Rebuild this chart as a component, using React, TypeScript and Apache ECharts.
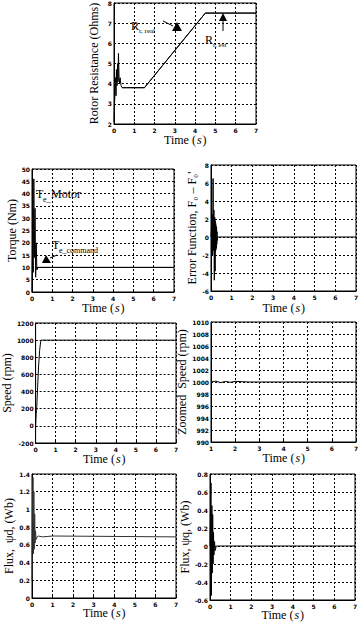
import React, { useEffect, useRef } from "react";
import * as echarts from "echarts";

// ---- Data ----
const rrEstTime = [0, 0.02, 0.05, 0.08, 0.1, 0.12, 0.15, 0.18, 0.2, 0.22, 0.25, 0.28, 0.3, 0.35, 0.4, 1.5, 4.5, 7];
const rrEstVal = [2.1, 2.9, 3.6, 4.3, 3.4, 4.7, 3.9, 5.0, 4.1, 5.5, 4.3, 4.0, 4.3, 3.9, 3.8, 3.8, 7.5, 7.5];
const rrRealTime = [0.4, 1.5, 4.5, 7];
const rrRealVal = [3.8, 3.8, 7.5, 7.5];

const teTime = [0, 0.03, 0.06, 0.09, 0.12, 0.15, 0.18, 0.21, 0.24, 0.3, 7];
const teMotor = [0, 22, 8, 46, 14, 34, 6, 20, 9, 10, 10];
const teCmdTime = [0.3, 7];
const teCmd = [10, 10];

const errTime = [0, 0.06, 0.08, 0.1, 0.12, 0.14, 0.16, 0.18, 0.2, 0.21, 0.22, 0.23, 0.24, 0.25, 0.26, 0.27, 0.28, 0.29, 0.3, 0.32, 7];
const errVal = [0, 2.5, -2, 6.5, -1.5, 3, -4.8, 2.2, -3.8, 1.8, -1.6, 1.5, -1.4, 1.2, -1.2, 1, -0.8, 0.6, -0.4, 0, 0];

const spdTime = [0, 0.03, 0.05, 0.06, 0.1, 0.15, 0.2, 0.25, 0.28, 0.3, 7];
const spdVal = [0, 150, 180, 230, 450, 700, 880, 980, 1000, 1000, 1000];

const zspdTime = [1, 1.2, 1.4, 1.6, 1.8, 2.0, 2.3, 2.6, 3.0, 4.0, 5.0, 6.0, 7];
const zspdVal = [1000, 1000.15, 999.9, 1000.1, 999.95, 1000.1, 1000.05, 1000, 1000, 1000, 1000, 1000, 1000];

const psidTime = [0, 0.02, 0.05, 0.07, 0.09, 0.11, 0.13, 0.15, 0.17, 0.2, 0.25, 0.3, 0.5, 1, 7];
const psidVal = [0.2, 1.0, 1.36, 0.5, 1.2, 0.55, 0.95, 0.62, 0.76, 0.66, 0.69, 0.7, 0.69, 0.7, 0.69];

const psiqTime = [0, 0.03, 0.05, 0.07, 0.09, 0.11, 0.13, 0.15, 0.17, 0.19, 0.22, 0.25, 0.3, 7];
const psiqVal = [0, 0.5, 0.7, -0.55, 0.45, -0.3, 0.35, -0.2, 0.15, -0.1, 0.05, -0.05, 0, 0];

// axis ranges / tick steps
const axes = [
  { x: [0, 7, 1], y: [2, 8, 1], yName: "Rotor Resistance (Ohms)" },
  { x: [0, 7, 1], y: [0, 50, 5], yName: "Torque (Nm)" },
  { x: [0, 7, 1], y: [-6, 8, 2], yName: "Error Function, F₀ – F₀'" },
  { x: [0, 7, 1], y: [-200, 1200, 200], yName: "Speed (rpm)" },
  { x: [1, 7, 1], y: [990, 1010, 2], yName: "Zoomed  Speed (rpm)" },
  { x: [0, 7, 1], y: [0, 1.4, 0.2], yName: "Flux,  ψd, (Wb)" },
  { x: [0, 7, 1], y: [-0.6, 0.8, 0.2], yName: "Flux, ψq, (Wb)" },
];

const grids = [
  { left: 114, top: 3, width: 142, height: 121, yGap: 14, xGap: 10 },
  { left: 32, top: 169, width: 142, height: 123, yGap: 12, xGap: 10 },
  { left: 211, top: 165, width: 145, height: 126, yGap: 12, xGap: 11 },
  { left: 32, top: 323, width: 144, height: 120, yGap: 14, xGap: 10 },
  { left: 211, top: 322, width: 145, height: 120, yGap: 14, xGap: 10 },
  { left: 32, top: 474, width: 144, height: 124, yGap: 14, xGap: 9 },
  { left: 210, top: 474, width: 145, height: 126, yGap: 10, xGap: 9 },
];

const zip = (t: number[], v: number[]) => t.map((x, i) => [x, v[i]]);

const SERIF = "Liberation Serif, Times New Roman, serif";

export default function App() {
  const ref = useRef<HTMLDivElement>(null);
  useEffect(() => {
    if (!ref.current) return;
    const chart = echarts.init(ref.current, undefined, { renderer: "svg" });
    const fmt = (v: number) => String(Math.round(v * 1000) / 1000);
    const tickLabel = { fontSize: 6, color: "#000", fontFamily: "DejaVu Sans", fontWeight: "bold" as const, formatter: fmt };
    const split = { show: true, lineStyle: { color: "#000", type: [2, 2] as any, width: 1 } };
    const xAxis = axes.map((a, i) => ({
      type: "value" as const,
      gridIndex: i,
      min: a.x[0],
      max: a.x[1],
      interval: a.x[2],
      axisLine: { show: true, onZero: false, lineStyle: { color: "#000" } },
      axisTick: { show: true, inside: true, length: 2, lineStyle: { color: "#000" } },
      axisLabel: { ...tickLabel, margin: 3 },
      splitLine: split,
    }));
    const yAxis = axes.map((a, i) => ({
      type: "value" as const,
      gridIndex: i,
      min: a.y[0],
      max: a.y[1],
      interval: a.y[2],
      axisLine: { show: true, onZero: false, lineStyle: { color: "#000" } },
      axisTick: { show: true, inside: true, length: 2, lineStyle: { color: "#000" } },
      axisLabel: { ...tickLabel, margin: 2 },
      splitLine: split,
      name: a.yName,
      nameLocation: "middle" as const,
      nameRotate: 90,
      nameGap: grids[i].yGap,
      nameTextStyle: { fontFamily: SERIF, fontSize: 12, color: "#000" },
    }));
    const line = (i: number, t: number[], v: number[], color = "#000", width = 1) => ({
      type: "line" as const,
      xAxisIndex: i,
      yAxisIndex: i,
      data: zip(t, v),
      showSymbol: false,
      symbol: "none",
      lineStyle: { color, width },
      silent: true,
    });
    const txt = (x: number, y: number, s: string, size: number, italic = false) => ({
      type: "text" as const,
      left: x,
      top: y,
      style: { text: s, fill: "#000", font: `${italic ? "italic " : ""}${size}px ${SERIF}` },
    });
    const timeTitles = grids.flatMap((g) => {
      const x = g.left + g.width / 2 - 21;
      const y = g.top + g.height + g.xGap;
      return [txt(x, y, "Time (", 12), txt(x + 33, y, "s", 12, true), txt(x + 38.5, y, ")", 12)];
    });
    chart.setOption({
      animation: false,
      backgroundColor: "#fff",
      grid: grids.map((g) => ({
        left: g.left,
        top: g.top,
        width: g.width,
        height: g.height,
        show: true,
        borderColor: "#000",
        borderWidth: 1,
        backgroundColor: "transparent",
      })),
      xAxis,
      yAxis,
      series: [
        line(0, rrRealTime, rrRealVal),
        line(0, rrEstTime, rrEstVal),
        line(1, teCmdTime, teCmd, "#444"),
        line(1, teTime, teMotor),
        line(2, errTime, errVal),
        line(3, spdTime, spdVal),
        line(4, zspdTime, zspdVal),
        line(5, psidTime, psidVal, "#333"),
        line(6, psiqTime, psiqVal),
      ],
      graphic: [
        ...timeTitles,
        // Rotor resistance annotations
        txt(131, 20, "R", 12),
        txt(139, 27, "r, real", 7),
        { type: "line", shape: { x1: 163, y1: 21, x2: 173, y2: 26 }, style: { stroke: "#000", lineWidth: 1 } },
        { type: "polygon", shape: { points: [[172, 31], [182, 31], [177, 22]] }, style: { fill: "#000" } },
        txt(205, 34, "R", 12),
        txt(213, 41, "r, est", 7),
        { type: "line", shape: { x1: 223, y1: 20, x2: 223, y2: 31 }, style: { stroke: "#000", lineWidth: 1 } },
        { type: "polygon", shape: { points: [[219, 21], [227, 21], [223, 13]] }, style: { fill: "#000" } },
        // Torque annotations
        txt(36, 188, "T", 12),
        txt(43, 195, "e_", 8),
        txt(51, 188, "Motor", 12),
        txt(52, 239, "T", 12),
        txt(59, 246, "e_command", 8),
        { type: "polygon", shape: { points: [[42, 263], [51, 263], [46, 255]] }, style: { fill: "#000" } },
        { type: "line", shape: { x1: 50, y1: 258, x2: 57, y2: 255 }, style: { stroke: "#000", lineWidth: 1 } },
      ],
    });
    return () => chart.dispose();
  }, []);
  return (
    <div
      ref={ref}
      style={{ position: "absolute", left: 0, top: 0, width: 364, height: 626, background: "#fff" }}
    />
  );
}
